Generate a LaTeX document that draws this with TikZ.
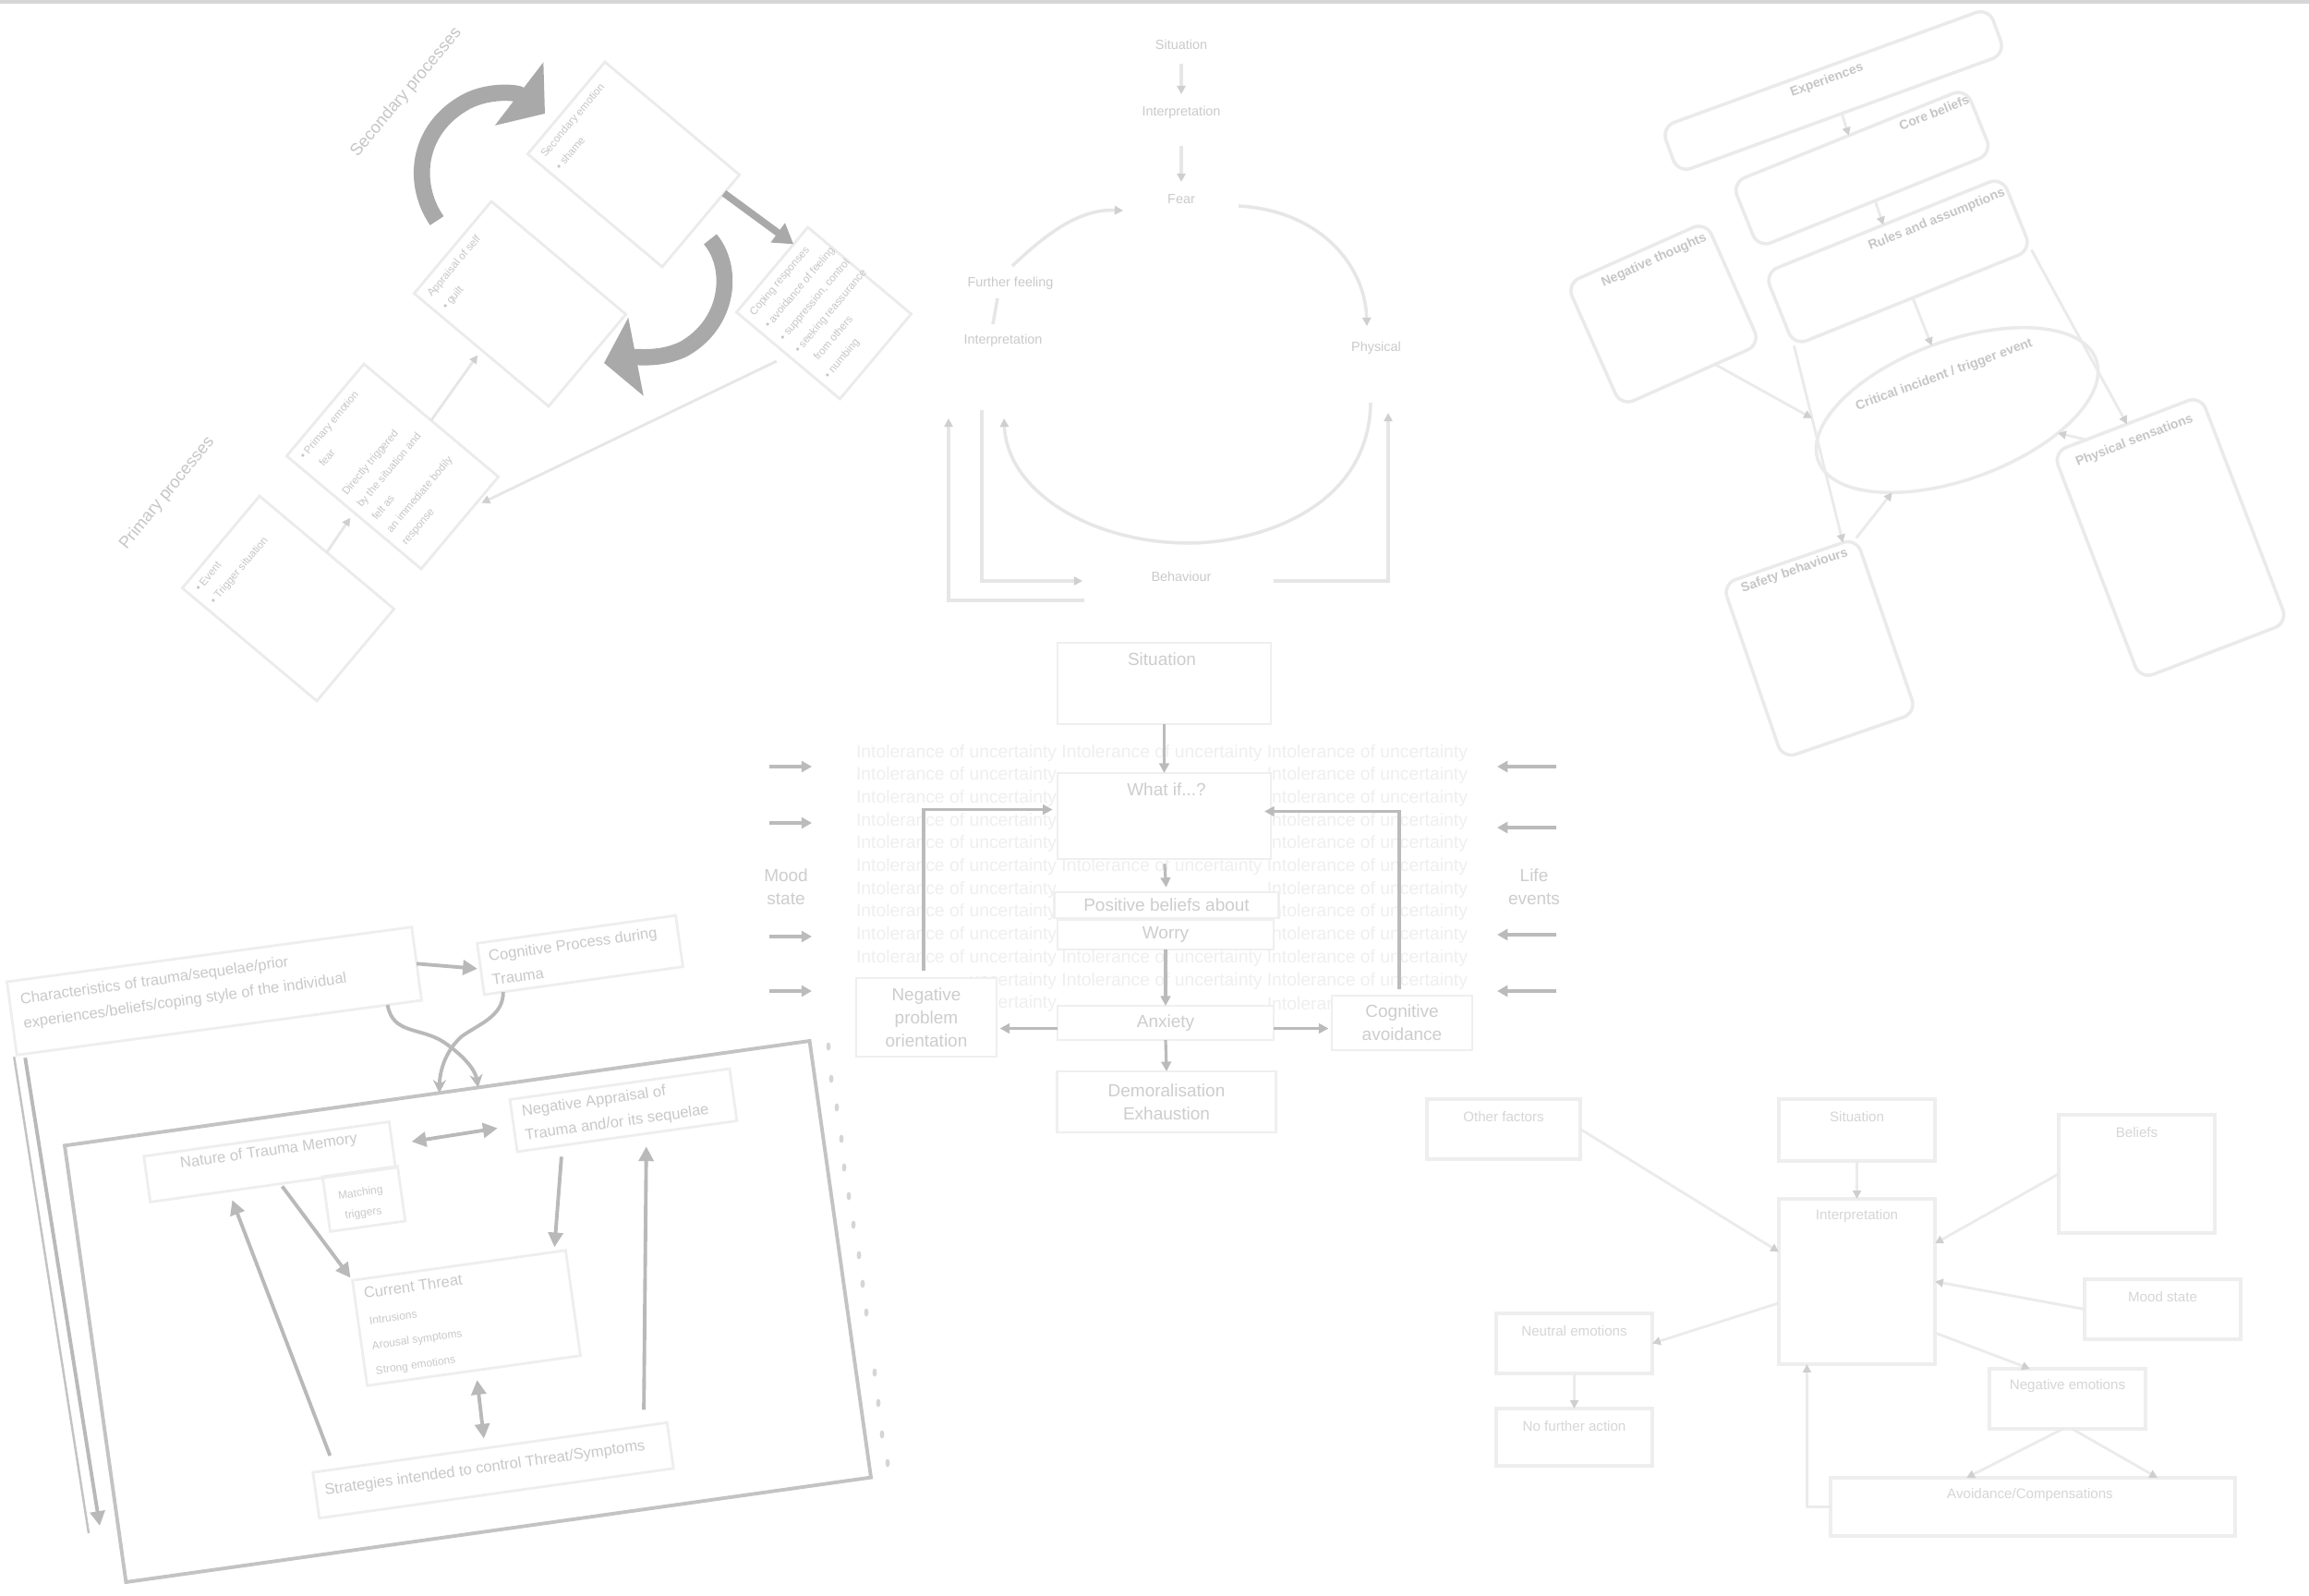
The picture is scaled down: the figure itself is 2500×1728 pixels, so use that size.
\documentclass[tikz,border=0pt]{standalone}
\usepackage{fontspec}
\setmainfont{Liberation Sans}
\usetikzlibrary{arrows.meta,shapes.geometric,calc}
\definecolor{topline}{HTML}{D6D6D6}
\definecolor{boxA}{HTML}{EBEBEB}
\definecolor{txtA}{HTML}{C6C6C6}
\definecolor{bigarr}{HTML}{A9A9A9}
\definecolor{lineL}{HTML}{E6E6E6}
\definecolor{headL}{HTML}{CFCFCF}
\definecolor{txtB}{HTML}{CACACA}
\definecolor{boxC}{HTML}{EAEAEA}
\definecolor{txtC}{HTML}{C6C6C6}
\definecolor{boxD}{HTML}{EFEFEF}
\definecolor{txtD}{HTML}{CDCDCD}
\definecolor{bgD}{HTML}{EFEFEF}
\definecolor{arrD}{HTML}{BBBBBB}
\definecolor{boxE}{HTML}{EEEEEE}
\definecolor{txtE}{HTML}{C9C9C9}
\definecolor{arrE}{HTML}{B9B9B9}
\definecolor{frameE}{HTML}{C3C3C3}
\definecolor{boxF}{HTML}{EEEEEE}
\definecolor{txtF}{HTML}{D6D6D6}
\definecolor{lineF}{HTML}{EBEBEB}
\newcommand{\fntA}{\fontsize{3.3}{6}\selectfont}
\newcommand{\fntAL}{\fontsize{5.2}{6}\selectfont}
\newcommand{\fntB}{\fontsize{4.1}{5}\selectfont}
\newcommand{\fntC}{\fontsize{4}{5}\selectfont\bfseries}
\newcommand{\fntD}{\fontsize{5.4}{7.1}\selectfont}
\newcommand{\fntDbg}{\fontsize{5.5}{6}\selectfont}
\newcommand{\fntE}{\fontsize{4.7}{7.5}\selectfont}
\newcommand{\fntEs}{\fontsize{3.4}{6.3}\selectfont}
\newcommand{\fntF}{\fontsize{4.3}{5}\selectfont}
\newcommand{\iouone}{Intolerance of uncertainty}
\begin{document}
\begin{tikzpicture}[x=0.01cm,y=-0.01cm,
  every node/.style={inner sep=0pt,outer sep=0pt},
  abox/.style={draw=boxA,line width=0.8pt,rotate=50,minimum width=1.3cm,minimum height=1.9cm},
  atext/.style={text=txtA,font=\fntA,rotate=50,anchor=north west,inner sep=2.6pt,align=left},
  alabel/.style={text=txtA,font=\fntAL},
  aline/.style={draw=lineL,line width=0.8pt,-{Triangle[length=2.5pt,width=2.5pt,color=headL]}},
  bigarrow/.style={draw=bigarr,line width=5pt,-{Triangle[length=10pt,width=24pt]}},
  btext/.style={text=txtB,font=\fntB},
  bline/.style={draw=lineL,line width=1pt,-{Triangle[length=2.6pt,width=2.6pt,color=headL]}},
  bplain/.style={draw=lineL,line width=1pt},
  cbox/.style={draw=boxC,line width=1pt,rounded corners=0.15cm},
  ctext/.style={text=txtC,font=\fntC},
  cline/.style={draw=boxC,line width=0.8pt,-{Triangle[length=2.5pt,width=2.5pt,color=headL]}},
  dbox/.style={draw=boxD,line width=0.8pt,fill=white,align=center,text=txtD,font=\fntD},
  dtext/.style={text=txtD,font=\fntD,align=center},
  dbg/.style={text=bgD,font=\fntDbg,anchor=west},
  dbgr/.style={text=bgD,font=\fntDbg,anchor=east},
  darr/.style={draw=arrD,line width=0.9pt,-{Triangle[length=3pt,width=3pt]}},
  dmood/.style={draw=arrD,line width=1.2pt,-{Triangle[length=3.2pt,width=3.4pt]}},
  ebox/.style={draw=boxE,line width=0.8pt,rotate=8},
  etext/.style={text=txtE,font=\fntE,rotate=8,align=left},
  earr/.style={draw=arrE,line width=1.1pt,-{Triangle[length=4.5pt,width=4.5pt]}},
  edbl/.style={draw=arrE,line width=1.1pt,{Triangle[length=4.5pt,width=4.5pt]}-{Triangle[length=4.5pt,width=4.5pt]}},
  fbox/.style={draw=boxF,line width=1.3pt},
  ftext/.style={text=txtF,font=\fntF},
  fline/.style={draw=lineF,line width=0.8pt,-{Triangle[length=2.5pt,width=2.5pt,color=headL]}}
]
\useasboundingbox (0,0) rectangle (2500,1728);
\fill[white] (0,0) rectangle (2500,1728);
\draw[topline,line width=1pt] (0,2) -- (2500,2);

% ================= A : rotated process diagram =================
\node[alabel,rotate=50] (Lsec) at (440,100) {Secondary processes};
\node[alabel,rotate=51] (Lpri) at (181,534) {Primary processes};
\node[abox] (A1) at (686,178) {};
\node[abox] (A2) at (563,329) {};
\node[abox] (A3) at (425,505) {};
\node[abox] (A4) at (312,648) {};
\node[abox,minimum width=1.2cm,minimum height=1.46cm] (A5) at (892,339) {};
\node[atext] at (A1.north west) {Secondary emotion\\• shame};
\node[atext] at (A2.north west) {Appraisal of self\\• guilt};
\node[atext] at (A3.north west) {• Primary emotion\\\phantom{•} fear\\[5pt]Directly triggered\\by the situation and\\felt as\\an immediate bodily\\response};
\node[atext] at (A4.north west) {• Event\\• Trigger situation};
\node[atext] at (A5.north west) {Coping responses\\• avoidance of feeling\\• suppression, control\\• seeking reassurance\\\phantom{•} from others\\• numbing};
\draw[bigarrow] (473,239) .. controls (446,200) and (450,140) .. (505,110) .. controls (530,97) and (560,100) .. (590,123);
\draw[bigarrow] (769,259) .. controls (795,290) and (790,350) .. (740,378) .. controls (715,390) and (690,386) .. (654,393);
\draw[draw=bigarr,line width=2.2pt,-{Triangle[length=6pt,width=7pt]}] ($(A1.south east)!0.2!(A1.south west)$) -- ($(A5.north west)!0.8!(A5.north east)$);
\draw[aline,shorten >=2pt] (A3.east) -- (A2.west);
\draw[aline,shorten >=2pt] (A4.east) -- (A3.west);
\draw[aline,shorten >=3pt,shorten <=4pt] (A5.west) -- ($(A3.south west)!0.67!(A3.south east)$);

% ================= B : fear cycle =================
\node[btext] (Bsit) at (1279,48) {Situation};
\node[btext] (Bint) at (1279,122) {Interpretation};
\node[btext] (Bfear) at (1279,216) {Fear};
\node[btext] (Bphys) at (1490,377) {Physical};
\node[btext] (Bff) at (1094,307) {Further feeling};
\node[btext] (Bint2) at (1086,369) {Interpretation};
\node[btext] (Bbeh) at (1279,624) {Behaviour};
\draw[bline] ($(Bsit)+(0,21)$) -- ($(Bint)+(0,-20)$);
\draw[bline] ($(Bint)+(0,36)$) -- ($(Bfear)+(0,-19)$);
\draw[bline] ($(Bfear)+(62,7)$) .. controls ($(Bfear)+(150,12)$) and ($(Bphys)+(-12,-90)$) .. ($(Bphys)+(-10,-24)$);
\draw[bline] ($(Bff)+(2,-19)$) .. controls ($(Bff)+(40,-55)$) and ($(Bfear)+(-110,10)$) .. ($(Bfear)+(-63,12)$);
\draw[bplain] ($(Bff)+(-14,16)$) -- ($(Bint2)+(-11,-18)$);
\draw[bline] ($(Bphys)+(-6,59)$) .. controls ($(Bphys)+(-8,175)$) and ($(Bbeh)+(80,-36)$) .. ($(Bbeh)+(8,-36)$) .. controls ($(Bbeh)+(-95,-36)$) and ($(Bint2)+(5,165)$) .. ($(Bint2)+(1,84)$);
\coordinate (bL1) at ($(Bbeh)+(-105,26)$);
\coordinate (bL1e) at ($(Bint2)+(-59,84)$);
\draw[bline] (bL1) -| (bL1e);
\coordinate (bL2) at ($(Bint2)+(-23,75)$);
\coordinate (bL2e) at ($(Bbeh)+(-107,5)$);
\draw[bline] (bL2) |- (bL2e);
\coordinate (bR) at ($(Bbeh)+(100,5)$);
\coordinate (bRe) at ($(Bphys)+(13,70)$);
\draw[bline] (bR) -| (bRe);

% ================= C : rotated formulation =================
\node[cbox,rotate=20,minimum width=3.77cm,minimum height=0.53cm] (C1) at (1985,98) {};
\node[cbox,rotate=22,minimum width=2.73cm,minimum height=0.76cm] (C2) at (2016,182) {};
\node[cbox,rotate=22,minimum width=2.77cm,minimum height=0.85cm] (C3) at (2055,283) {};
\node[cbox,rotate=24,minimum width=1.65cm,minimum height=1.45cm] (C4) at (1801,340) {};
\node[draw=boxC,line width=1pt,ellipse,rotate=20,minimum width=3.2cm,minimum height=1.5cm] (C5) at (2119,444) {};
\node[cbox,rotate=19,minimum width=1.53cm,minimum height=2cm] (C6) at (1970,702) {};
\node[cbox,rotate=21,minimum width=1.71cm,minimum height=2.63cm] (C7) at (2350,582) {};
\node[ctext,rotate=20] at (1978,87) {Experiences};
\node[ctext,rotate=22] at (2094,122) {Core beliefs};
\node[ctext,rotate=22] at (2097,238) {Rules and assumptions};
\node[ctext,rotate=24] at (1791,282) {Negative thoughts};
\node[ctext,rotate=20] at (2105,406) {Critical incident / trigger event};
\node[ctext,rotate=19] at (1943,618) {Safety behaviours};
\node[ctext,rotate=21] at (2311,477) {Physical sensations};
\draw[cline] (C1.south) -- (C2.north);
\draw[cline] (C2.south) -- (C3.north);
\draw[cline] (C3.south) -- (C5);
\coordinate (C6t) at ($(C6.north)!0.8!(C6.north east)$);
\draw[cline] (C3.south west) -- (C6t);
\coordinate (C4s) at ($(C4.south)!0.35!(C4.south east)$);
\coordinate (C4e) at ($(C3.south west)!0.368!(C6t)$);
\draw[cline] (C4s) -- (C4e);
\draw[cline] (C3.south east) -- (C7.north);
\coordinate (C7s) at ($(C7.north west)!0.45!(C7.north)$);
\draw[cline] (C7s) -- (C5);
\draw[cline] (C6.north east) -- (C5);

% ================= D : worry model =================
% background rows (pieces hidden behind boxes are left out)
\foreach \yy in {815,839.7,864.4,889.1,913.8,938.5,963.2,987.9,1012.6,1037.3} {
  \node[dbg] at (927,\yy) {\iouone};
}
\foreach \yy in {815,839.7,864.4,889.1,913.8,938.5,963.2,987.9,1012.6,1037.3,1062} {
  \node[dbg] at (1371.8,\yy) {\iouone};
}
\foreach \yy in {815,938.5,1037.3,1062} {
  \node[dbg] at (1149.4,\yy) {\iouone};
}
\node[dbgr] at (1144,1062) {uncertainty};
\node[dbgr] at (1144,1086.7) {uncertainty};
\node[dbg] at (1371.8,1086.7) {Intolerance};
\node[dbox,minimum width=2.31cm,minimum height=0.88cm] (Dsit) at (1260.5,740) {};
\node[dtext] at (1258,714) {Situation};
\node[dbox,minimum width=2.31cm,minimum height=0.93cm] (Dwhat) at (1260.5,883.5) {};
\node[dtext] at (1263,855) {What if...?};
\node[dbox,minimum width=2.43cm,minimum height=0.28cm] (Dpos) at (1263,980) {Positive beliefs about};
\node[dbox,minimum width=2.34cm,minimum height=0.32cm] (Dworry) at (1262,1012) {Worry};
\node[dbox,minimum width=2.34cm,minimum height=0.37cm] (Danx) at (1262,1107.5) {Anxiety};
\node[dbox,minimum width=2.37cm,minimum height=0.66cm] (Ddem) at (1263,1193) {Demoralisation\\Exhaustion};
\node[dbox,minimum width=1.52cm,minimum height=0.85cm] (Dnpo) at (1003,1101.5) {Negative\\problem\\orientation};
\node[dbox,minimum width=1.52cm,minimum height=0.59cm] (Dca) at (1518,1107.5) {Cognitive\\avoidance};
\draw[darr] (Dsit.south) -- (Dwhat.north);
\draw[darr,shorten <=1.5pt,shorten >=1.5pt] (Dwhat.south) -- (Dpos.north);
\draw[darr] (Dworry.south) -- (Danx.north);
\draw[darr] (Danx.south) -- (Ddem.north);
\coordinate (anxL) at ($(Danx.west)+(0,6)$);
\coordinate (anxR) at ($(Danx.east)+(0,6)$);
\draw[darr,shorten >=1pt] (anxL) -- (anxL -| Dnpo.east);
\draw[darr,shorten >=1pt] (anxR) -- (anxR -| Dca.west);
\coordinate (whL) at ($(Dwhat.west)+(0,-7)$);
\coordinate (whR) at ($(Dwhat.east)+(0,-5)$);
\draw[darr,shorten >=1.5pt] ($(Dnpo.north)+(-3,-8)$) |- (whL);
\draw[darr,shorten >=-2pt] ($(Dca.north)+(-3,-7)$) |- (whR);
\node[dtext] (Dmood) at (851,960.5) {Mood\\state};
\node[dtext] (Dlife) at (1661,960.5) {Life\\events};
\foreach \yy [count=\i] in {830,891,1014,1073} {
  \coordinate (ms\i) at (833,\yy);
  \coordinate (me\i) at (879,\yy);
  \draw[dmood] (ms\i) -- (me\i);
}
\foreach \yy [count=\i] in {830,896,1012,1073} {
  \coordinate (ls\i) at (1685,\yy);
  \coordinate (le\i) at (1621,\yy);
  \draw[dmood] (ls\i) -- (le\i);
}

% ================= E : trauma model =================
\node[ebox,rotate=-0.3,minimum width=4.42cm,minimum height=0.8cm] (Ech) at (232,1073) {};
\node[etext,anchor=west] at (24,1096) {Characteristics of trauma/sequelae/prior\\experiences/beliefs/coping style of the individual};
\node[ebox,minimum width=2.17cm,minimum height=0.56cm] (Ecp) at (628,1034) {};
\node[etext,anchor=west] at (531,1048) {Cognitive Process during\\Trauma};
\node[draw=frameE,line width=1.1pt,rotate=8,minimum width=8.14cm,minimum height=4.77cm] (Eframe) at (506.5,1420) {};
\node[ebox,minimum width=2.68cm,minimum height=0.5cm] (Enat) at (292,1258) {};
\node[etext] at (291,1247) {Nature of Trauma Memory};
\node[ebox,minimum width=0.82cm,minimum height=0.6cm] (Etrig) at (394,1298) {};
\node[etext,font=\fntEs,align=center] at (392,1303) {Matching\\triggers};
\node[ebox,minimum width=2.4cm,minimum height=0.57cm] (Eneg) at (675,1202) {};
\node[etext,anchor=west] at (567,1217) {Negative Appraisal of\\Trauma and/or its sequelae};
\node[ebox,minimum width=2.33cm,minimum height=1.15cm] (Ecur) at (505,1427) {};
\node[etext,anchor=west] at (394,1400) {Current Threat};
\node[etext,font=\fntEs,anchor=west] at (400,1430) {Intrusions};
\node[etext,font=\fntEs,anchor=west] at (403,1458) {Arousal symptoms};
\node[etext,font=\fntEs,anchor=west] at (407,1485) {Strong emotions};
\node[ebox,minimum width=3.87cm,minimum height=0.5cm] (Estr) at (534,1592) {};
\node[etext] at (525,1590) {Strategies intended to control Threat/Symptoms};
\draw[earr,shorten >=1pt] (Ech.east) -- (Ecp.west);
\draw[draw=arrE,line width=1.1pt,-{Stealth[length=4pt,width=4pt]}] ($(Ech.south west)!0.916!(Ech.south east)$) .. controls (425,1120) and (455,1112) .. (480,1128) .. controls (505,1145) and (515,1160) .. ($(Eframe.north west)!0.555!(Eframe.north east)$);
\draw[draw=arrE,line width=1.1pt,-{Stealth[length=4pt,width=4pt]}] ($(Ecp.south west)!0.095!(Ecp.south east)$) .. controls (545,1100) and (520,1108) .. (500,1122) .. controls (482,1138) and (476,1160) .. ($(Eframe.north west)!0.503!(Eframe.north east)$);
\draw[edbl,shorten <=6pt,shorten >=5pt] (Enat.east) -- (Eneg.west);
\draw[earr,shorten <=1pt,shorten >=1pt] ($(Enat.south west)!0.53!(Enat.south east)$) -- (Ecur.north west);
\draw[earr,shorten <=4.5pt,shorten >=3pt] ($(Estr.north west)!0.063!(Estr.north east)$) -- ($(Enat.south west)!0.32!(Enat.south east)$);
\draw[earr,shorten <=3.5pt,shorten >=1.5pt] ($(Eneg.south west)!0.205!(Eneg.south east)$) -- ($(Ecur.north west)!0.946!(Ecur.north east)$);
\draw[earr,shorten <=5pt,shorten >=4pt] ($(Estr.north west)!0.934!(Estr.north east)$) -- ($(Eneg.south west)!0.588!(Eneg.south east)$);
\draw[edbl,shorten <=3pt,shorten >=3pt] ($(Ecur.south west)!0.51!(Ecur.south east)$) -- ($(Estr.north west)!0.486!(Estr.north east)$);
\coordinate (Eback) at (108,1652);
\draw[earr] ($(Ech.south west)+(9,3)$) -- (Eback);
\coordinate (Eback2) at (96,1660);
\draw[draw=frameE,line width=0.7pt] ($(Ech.south west)+(-3,2)$) -- (Eback2);
\foreach \p in {(897,1133),(900,1168),(906,1199),(911,1233),(914,1264),(919,1295),(924,1326),(930,1359),(934,1390),(938,1421),(947,1486),(951,1519),(955,1553),(961,1584)} {
  \fill[frameE!70] \p ellipse (0.024cm and 0.045cm);
}

% ================= F : interpretation model =================
\node[fbox,minimum width=1.66cm,minimum height=0.65cm] (Fo) at (1628,1222.5) {};
\node[fbox,minimum width=1.69cm,minimum height=0.67cm] (Fs) at (2010.5,1223.5) {};
\node[fbox,minimum width=1.69cm,minimum height=1.28cm] (Fb) at (2313.5,1271) {};
\node[fbox,minimum width=1.69cm,minimum height=1.79cm] (Fi) at (2010.5,1387.5) {};
\node[fbox,minimum width=1.69cm,minimum height=0.65cm] (Fm) at (2341.5,1417.5) {};
\node[fbox,minimum width=1.69cm,minimum height=0.65cm] (Fn) at (1704.5,1454.5) {};
\node[fbox,minimum width=1.69cm,minimum height=0.62cm] (Fnf) at (1704.5,1556) {};
\node[fbox,minimum width=1.69cm,minimum height=0.65cm] (Fneg) at (2238.5,1514.5) {};
\node[fbox,minimum width=4.38cm,minimum height=0.63cm] (Fa) at (2201,1631.5) {};
\node[ftext] at ($(Fo.north)+(0,19)$) {Other factors};
\node[ftext] at ($(Fs.north)+(0,19)$) {Situation};
\node[ftext] at ($(Fb.north)+(0,19)$) {Beliefs};
\node[ftext] at ($(Fi.north)+(0,19)$) {Interpretation};
\node[ftext] at ($(Fm.north)+(0,19)$) {Mood state};
\node[ftext] at ($(Fn.north)+(0,19)$) {Neutral emotions};
\node[ftext] at ($(Fnf.north)+(0,19)$) {No further action};
\node[ftext] at ($(Fneg.north)+(0,19)$) {Negative emotions};
\node[ftext] at ($(Fa.north)+(-3,19)$) {Avoidance/Compensations};
\coordinate (FiW1) at ($(Fi.north west)!0.32!(Fi.south west)$);
\draw[fline] (Fo.east) -- (FiW1);
\draw[fline] (Fs.south) -- (Fi.north);
\coordinate (FiE1) at ($(Fi.north east)!0.27!(Fi.south east)$);
\draw[fline] (Fb.west) -- (FiE1);
\draw[fline] (Fm.west) -- (Fi.east);
\coordinate (FiW2) at ($(Fi.north west)!0.63!(Fi.south west)$);
\draw[fline] (FiW2) -- (Fn.east);
\draw[fline] (Fn.south) -- (Fnf.north);
\coordinate (FiE2) at ($(Fi.north east)!0.81!(Fi.south east)$);
\coordinate (FnegT) at ($(Fneg.north west)!0.26!(Fneg.north east)$);
\draw[fline] (FiE2) -- (FnegT);
\coordinate (FaT1) at ($(Fa.north west)!0.336!(Fa.north east)$);
\coordinate (FaT2) at ($(Fa.north west)!0.808!(Fa.north east)$);
\coordinate (FnS1) at ($(Fneg.south)+(-5,0)$);
\coordinate (FnS2) at ($(Fneg.south)+(5,0)$);
\draw[fline] (FnS1) -- (FaT1);
\draw[fline] (FnS2) -- (FaT2);
\coordinate (FiB) at ($(Fi.south west)!0.18!(Fi.south east)$);
\draw[fline] (Fa.west) -| (FiB);
\end{tikzpicture}
\end{document}
